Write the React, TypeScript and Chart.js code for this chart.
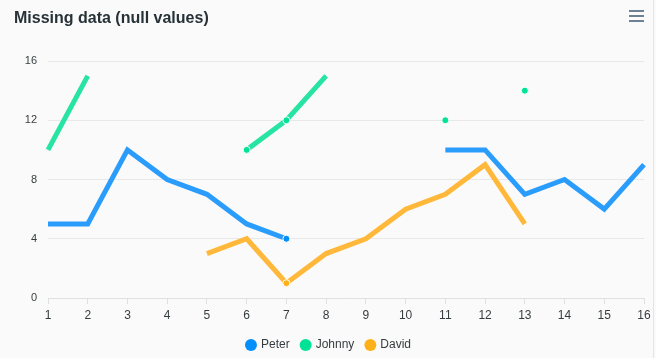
import React, { useEffect, useRef } from "react";
import { Chart, registerables } from "chart.js";

Chart.register(...registerables);

const categories = ["1","2","3","4","5","6","7","8","9","10","11","12","13","14","15","16"];
const peter = [5, 5, 10, 8, 7, 5, 4, null, null, null, 10, 10, 7, 8, 6, 9];
const johnny = [10, 15, null, null, null, 10, 12, 15, null, null, 12, null, 14, null, null, null];
const david = [null, null, null, null, 3, 4, 1, 3, 4, 6, 7, 9, 5, null, null, null];
const seriesNames = ["Peter", "Johnny", "David"];
const seriesColors = ["#008FFB", "#00E396", "#FEB019"];
const lineColors = ["#2a9cfb", "#27e4a3", "#ffb83a"];
const yTicks = [0, 4, 8, 12, 16];
const title = "Missing data (null values)";

const FONT = "Helvetica, Arial, 'Liberation Sans', sans-serif";

function radiusFor(arr: (number | null)[], shown: number[]) {
  return arr.map((_, i) => (shown.includes(i) ? 3.5 : 0));
}

export default function App() {
  const ref = useRef<HTMLCanvasElement>(null);
  useEffect(() => {
    document.body.style.margin = "0";
    const decor = {
      id: "decor",
      beforeDraw(chart: any) {
        const c = chart.ctx;
        c.save();
        c.fillStyle = "#fafafa";
        c.fillRect(0, 0, chart.width, chart.height);
        c.fillStyle = "#e4e4e4";
        c.fillRect(653, 0, 1, chart.height);
        c.restore();
      },
      afterDraw(chart: any) {
        const c = chart.ctx;
        c.save();
        c.fillStyle = "#263238";
        c.font = `bold 16px ${FONT}`;
        c.textBaseline = "alphabetic";
        c.textAlign = "left";
        c.fillText(title, 14, 23);
        c.fillStyle = "#6E8192";
        [11, 16, 21].forEach((y) => c.fillRect(629, y - 1, 15, 2));
        // legend
        c.font = `12px ${FONT}`;
        const gap = 10;
        const items = seriesNames.map((n) => ({ n, w: 12 + 4 + c.measureText(n).width }));
        const total = items.reduce((s, it) => s + it.w, 0) + gap * (items.length - 1);
        let x = chart.width / 2 - total / 2;
        const y = 345;
        items.forEach((it, i) => {
          c.fillStyle = seriesColors[i];
          c.beginPath();
          c.arc(x + 6, y, 6, 0, Math.PI * 2);
          c.fill();
          c.fillStyle = "#373d3f";
          c.textBaseline = "middle";
          c.fillText(it.n, x + 16, y);
          x += it.w + gap;
        });
        c.restore();
      },
    };
    const mk = (i: number, data: (number | null)[], shown: number[]) => ({
      label: seriesNames[i],
      data,
      borderColor: lineColors[i],
      backgroundColor: seriesColors[i],
      pointBackgroundColor: seriesColors[i],
      pointBorderColor: "#ffffff",
      pointBorderWidth: 1,
      pointRadius: radiusFor(data, shown),
      borderWidth: 5,
      borderJoinStyle: "miter" as const,
      tension: 0,
      spanGaps: false,
      fill: false,
    });
    const chart = new Chart(ref.current!, {
      type: "line",
      data: {
        labels: categories,
        datasets: [mk(0, peter, [6]), mk(1, johnny, [5, 6, 10, 12]), mk(2, david, [6])],
      },
      plugins: [decor],
      options: {
        animation: false,
        responsive: false,
        maintainAspectRatio: false,
        layout: { padding: { top: 61, left: 0, right: 12, bottom: 0 } },
        plugins: { legend: { display: false }, title: { display: false }, tooltip: { enabled: false } },
        scales: {
          x: {
            type: "category",
            offset: false,
            afterFit: (s: any) => { s.height = 60; },
            grid: { drawOnChartArea: false, drawTicks: true, tickLength: 6, color: "#e0e0e0" },
            border: { display: true, color: "#e0e0e0", width: 1 },
            ticks: { color: "#373d3f", font: { family: FONT, size: 12 }, padding: 4, maxRotation: 0, autoSkip: false },
          },
          y: {
            min: 0,
            max: 16,
            afterFit: (s: any) => { s.width = 48; },
            afterBuildTicks: (s: any) => { s.ticks = yTicks.map((v) => ({ value: v })); },
            grid: { color: "#e8e8e8", drawTicks: false },
            border: { display: false },
            ticks: { color: "#373d3f", font: { family: FONT, size: 11 }, padding: 11 },
          },
        },
      },
    });
    return () => chart.destroy();
  }, []);
  return (
    <div style={{ width: 656, height: 358 }}>
      <canvas ref={ref} width={656} height={358} style={{ display: "block" }} />
    </div>
  );
}
